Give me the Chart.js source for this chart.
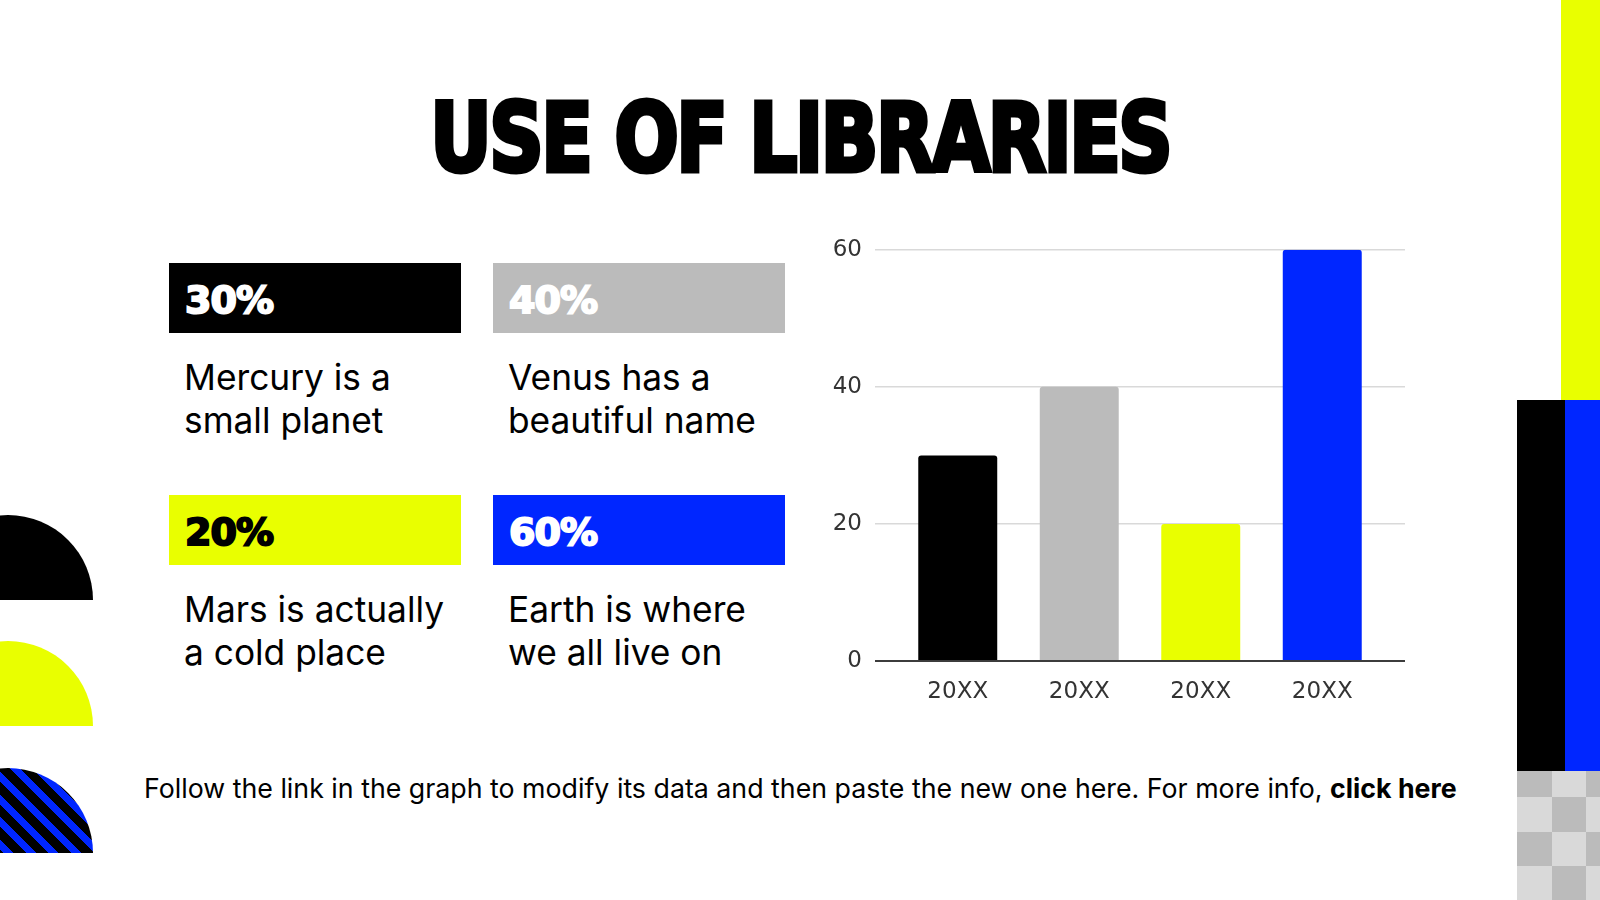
<!DOCTYPE html>
<html>
<head>
<meta charset="utf-8">
<script src="https://cdn.jsdelivr.net/npm/chart.js@4/dist/chart.umd.min.js"></script>
<style>
  html, body { margin: 0; padding: 0; background: #fff; }
  body { width: 1600px; height: 900px; position: relative; overflow: hidden; font-family: Inter, Roboto, sans-serif; }
  .abs { position: absolute; }
  #title { left: 0; width: 1600px; top: 89px; text-align: center; font-family: "DejaVu Sans", sans-serif; font-weight: bold;
           font-size: 94px; line-height: 100px; color: #000; -webkit-text-stroke: 5px #000; letter-spacing: -3px; }
  #title span { display: inline-block; transform-origin: center; }
  .box { width: 292px; height: 70px; }
  .box span { position: absolute; left: 16px; top: 15px; font-family: "DejaVu Sans", sans-serif; font-weight: bold; font-size: 38px;
              line-height: 44px; letter-spacing: -1px; -webkit-text-stroke: 2px currentColor; }
  .desc { font-size: 35.3px; line-height: 43px; color: #000; }
  #foot { left: 144px; top: 773px; font-size: 26.75px; line-height: 30px; color: #000; white-space: nowrap; }
  #chartBox { left: 817px; top: 223px; width: 588px; height: 488px; }
  .half { border-radius: 85px 85px 0 0; width: 170px; height: 85px; left: -77px; }
  .chk { width: 35px; height: 35px; }
</style>
</head>
<body>

<div id="title" class="abs"><span>USE OF LIBRARIES</span></div>

<div class="abs box" style="left:169px;top:263px;background:#000;color:#fff"><span>30%</span></div>
<div class="abs box" style="left:493px;top:263px;background:#bbbbbb;color:#fff"><span>40%</span></div>
<div class="abs box" style="left:169px;top:495px;background:#e9ff00;color:#000"><span>20%</span></div>
<div class="abs box" style="left:493px;top:495px;background:#0026ff;color:#fff"><span>60%</span></div>

<div class="abs desc" style="left:184px;top:356px">Mercury is a<br>small planet</div>
<div class="abs desc" style="left:508px;top:356px">Venus has a<br>beautiful name</div>
<div class="abs desc" style="left:184px;top:588px">Mars is actually<br>a cold place</div>
<div class="abs desc" style="left:508px;top:588px">Earth is where<br>we all live on</div>

<div id="foot" class="abs">Follow the link in the graph to modify its data and then paste the new one here. For more info, <b>click here</b></div>

<!-- decoración izquierda -->
<div class="abs half" style="top:515px;background:#000"></div>
<div class="abs half" style="top:641px;background:#e9ff00"></div>
<div class="abs half" style="top:768px;background:repeating-linear-gradient(45deg,#000 0 9px,#0026ff 9px 16px)"></div>

<!-- decoración derecha -->
<div class="abs" style="left:1561px;top:0;width:39px;height:400px;background:#e9ff00"></div>
<div class="abs" style="left:1517px;top:400px;width:48px;height:371px;background:#000"></div>
<div class="abs" style="left:1565px;top:400px;width:35px;height:371px;background:#0026ff"></div>
<div id="checker" class="abs" style="left:1517px;top:771px;width:83px;height:129px;overflow:hidden"></div>

<div id="chartBox" class="abs"><canvas id="libChart"></canvas></div>

<script>
// datos del gráfico
const categories = ['20XX', '20XX', '20XX', '20XX'];
const libraryUse = [30, 40, 20, 60];
const barColors = ['#000000', '#bbbbbb', '#e9ff00', '#0026ff'];
const yTicks = [0, 20, 40, 60];

document.addEventListener('DOMContentLoaded', () => {
    fitTitle();
    drawChecker();
    initLibraryChart();
});

// ajusta el ancho del título al de la referencia
function fitTitle() {
    const span = document.querySelector('#title span');
    const w = span.getBoundingClientRect().width;
    span.style.transform = 'scaleX(' + (740 / w) + ')';
}

// tablero gris de la esquina
function drawChecker() {
    const box = document.getElementById('checker');
    for (let r = 0; r < 5; r++) {
        for (let c = 0; c < 3; c++) {
            const d = document.createElement('div');
            d.className = 'abs chk';
            d.style.left = (c * 34.5) + 'px';
            d.style.top = (r * 34.5 - 8.5) + 'px';
            d.style.background = (r + c) % 2 === 0 ? '#bbbbbb' : '#d9d9d9';
            box.appendChild(d);
        }
    }
}

function initLibraryChart() {
    const ctx = document.getElementById('libChart');
    const gridColor = c => (c.tick && c.tick.value === 0) ? '#3c3c3c' : '#d9d9d9';
    const gridWidth = c => (c.tick && c.tick.value === 0) ? 2 : 1.5;
    const tickFont = { family: 'DejaVu Sans', size: 23 };

    new Chart(ctx, {
        type: 'bar',
        data: {
            labels: categories,
            datasets: [{
                data: libraryUse,
                backgroundColor: barColors,
                borderRadius: { topLeft: 3, topRight: 3 },
                borderSkipped: 'bottom',
                barPercentage: 0.65,
                categoryPercentage: 1
            }]
        },
        options: {
            responsive: true,
            maintainAspectRatio: false,
            animation: false,
            layout: { padding: { top: 20, left: 0, right: 0, bottom: 0 } },
            plugins: { legend: { display: false }, tooltip: { enabled: false } },
            scales: {
                x: {
                    grid: { display: false },
                    border: { display: false },
                    ticks: { color: '#333', padding: 9, font: tickFont },
                    afterFit: s => { s.height = 50; }
                },
                y: {
                    min: 0, max: 60,
                    afterBuildTicks: s => { s.ticks = yTicks.map(v => ({ value: v })); },
                    grid: { color: gridColor, lineWidth: gridWidth, tickLength: 22 },
                    border: { display: false },
                    ticks: { color: '#333', padding: 13, font: tickFont },
                    afterFit: s => { s.width = 80; }
                },
                yRight: {
                    position: 'right',
                    min: 0, max: 60,
                    afterBuildTicks: s => { s.ticks = yTicks.map(v => ({ value: v })); },
                    grid: { color: gridColor, lineWidth: gridWidth, tickLength: 22, drawOnChartArea: false },
                    border: { display: false },
                    ticks: { display: false },
                    afterFit: s => { s.width = 22; }
                }
            }
        }
    });
}
</script>
</body>
</html>
